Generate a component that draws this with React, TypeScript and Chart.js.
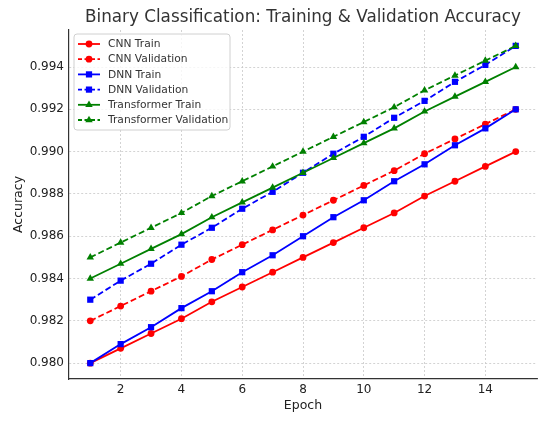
import React, { useEffect, useRef } from 'react';
import { Chart, registerables } from 'chart.js';
import { drawPoint } from 'chart.js/helpers';

Chart.register(...registerables);

const epochs = [1, 2, 3, 4, 5, 6, 7, 8, 9, 10, 11, 12, 13, 14, 15];

const cnnTrain = [0.9800, 0.9807, 0.9814, 0.9821, 0.9829, 0.9836, 0.9843, 0.9850, 0.9857, 0.9864, 0.9871, 0.9879, 0.9886, 0.9893, 0.9900];
const cnnVal = [0.9820, 0.9827, 0.9834, 0.9841, 0.9849, 0.9856, 0.9863, 0.9870, 0.9877, 0.9884, 0.9891, 0.9899, 0.9906, 0.9913, 0.9920];
const dnnTrain = [0.9800, 0.9809, 0.9817, 0.9826, 0.9834, 0.9843, 0.9851, 0.9860, 0.9869, 0.9877, 0.9886, 0.9894, 0.9903, 0.9911, 0.9920];
const dnnVal = [0.9830, 0.9839, 0.9847, 0.9856, 0.9864, 0.9873, 0.9881, 0.9890, 0.9899, 0.9907, 0.9916, 0.9924, 0.9933, 0.9941, 0.9950];
const tfTrain = [0.9840, 0.9847, 0.9854, 0.9861, 0.9869, 0.9876, 0.9883, 0.9890, 0.9897, 0.9904, 0.9911, 0.9919, 0.9926, 0.9933, 0.9940];
const tfVal = [0.9850, 0.9857, 0.9864, 0.9871, 0.9879, 0.9886, 0.9893, 0.9900, 0.9907, 0.9914, 0.9921, 0.9929, 0.9936, 0.9943, 0.9950];

const xTicks = [2, 4, 6, 8, 10, 12, 14];
const yTicks = [0.980, 0.982, 0.984, 0.986, 0.988, 0.990, 0.992, 0.994];

const titleText = 'Binary Classification: Training & Validation Accuracy';
const FONT = '"DejaVu Sans", Verdana, sans-serif';

const series = [
  { label: 'CNN Train', data: cnnTrain, color: '#ff0000', dashed: false, marker: 'circle' },
  { label: 'CNN Validation', data: cnnVal, color: '#ff0000', dashed: true, marker: 'circle' },
  { label: 'DNN Train', data: dnnTrain, color: '#0000ff', dashed: false, marker: 'rect' },
  { label: 'DNN Validation', data: dnnVal, color: '#0000ff', dashed: true, marker: 'rect' },
  { label: 'Transformer Train', data: tfTrain, color: '#008000', dashed: false, marker: 'triangle' },
  { label: 'Transformer Validation', data: tfVal, color: '#008000', dashed: true, marker: 'triangle' },
];

const markerRadius = (m: string) => (m === 'rect' ? 4.4 : m === 'triangle' ? 4.3 : 3.4);
const DASH = [6, 3];
const LINE_W = 1.8;

// title + in-axes legend, drawn the matplotlib way
const overlayPlugin = {
  id: 'overlay',
  afterDraw(chart: any) {
    const { ctx, chartArea } = chart;
    ctx.save();
    ctx.fillStyle = '#333333';
    ctx.font = `16.8px ${FONT}`;
    ctx.textAlign = 'center';
    ctx.textBaseline = 'middle';
    ctx.fillText(titleText, (chartArea.left + chartArea.right) / 2, 18);

    const bx = chartArea.left + 5;
    const by = chartArea.top + 4;
    const bw = 156;
    const bh = 96;
    ctx.beginPath();
    ctx.roundRect(bx, by, bw, bh, 3);
    ctx.fillStyle = 'rgba(255,255,255,0.8)';
    ctx.fill();
    ctx.strokeStyle = '#d0d0d0';
    ctx.lineWidth = 1;
    ctx.stroke();

    ctx.font = `10.7px ${FONT}`;
    ctx.textAlign = 'left';
    series.forEach((s, i) => {
      const y = by + 10 + i * 15.2;
      ctx.beginPath();
      ctx.setLineDash(s.dashed ? [4, 2.5] : []);
      ctx.strokeStyle = s.color;
      ctx.lineWidth = LINE_W;
      ctx.moveTo(bx + 4, y);
      ctx.lineTo(bx + 26, y);
      ctx.stroke();
      ctx.setLineDash([]);
      ctx.fillStyle = s.color;
      ctx.strokeStyle = s.color;
      drawPoint(ctx, { pointStyle: s.marker as any, radius: markerRadius(s.marker), rotation: 0, borderWidth: 0 }, bx + 15, y);
      ctx.fillStyle = '#333333';
      ctx.fillText(s.label, bx + 34, y + 0.5);
    });
    ctx.restore();
  },
};

export default function App() {
  const canvasRef = useRef<HTMLCanvasElement>(null);

  useEffect(() => {
    document.body.style.margin = '0';
    if (!canvasRef.current) return;
    const ctx = canvasRef.current.getContext('2d');
    if (!ctx) return;

    const gridOpts = {
      color: '#c8c8c8',
      lineWidth: 0.8,
      drawTicks: false,
    };
    const borderOpts = { display: true, color: '#333333', width: 1.2, dash: [2, 2] };

    const chart = new Chart(ctx, {
      type: 'line',
      data: {
        datasets: series.map((s, i) => ({
          label: s.label,
          data: epochs.map((e, j) => ({ x: e, y: s.data[j] })),
          borderColor: s.color,
          backgroundColor: s.color,
          borderWidth: LINE_W,
          borderDash: s.dashed ? DASH : [],
          pointStyle: s.marker as any,
          pointRadius: markerRadius(s.marker),
          pointBorderWidth: 0,
          tension: 0,
          fill: false,
          order: series.length - i,
        })),
      },
      options: {
        animation: false,
        responsive: false,
        layout: { padding: { left: 0, right: 13, top: 30, bottom: 0 } },
        plugins: {
          legend: { display: false },
          title: { display: false },
          tooltip: { enabled: false },
        },
        scales: {
          x: {
            type: 'linear',
            min: 0.3,
            max: 15.7,
            afterBuildTicks: (scale: any) => {
              scale.ticks = xTicks.map((v) => ({ value: v }));
            },
            afterFit: (scale: any) => {
              scale.height = 43;
            },
            ticks: {
              color: '#222222',
              font: { family: FONT, size: 12 },
              padding: 4,
              maxRotation: 0,
              autoSkip: false,
            },
            grid: gridOpts,
            border: borderOpts,
            title: {
              display: true,
              text: 'Epoch',
              color: '#222222',
              font: { family: FONT, size: 12.5 },
              padding: { top: 0, bottom: 9 },
            },
          },
          y: {
            type: 'linear',
            min: 0.97925,
            max: 0.99575,
            afterBuildTicks: (scale: any) => {
              scale.ticks = yTicks.map((v) => ({ value: v }));
            },
            afterFit: (scale: any) => {
              scale.width = 69;
            },
            ticks: {
              color: '#222222',
              font: { family: FONT, size: 12 },
              padding: 5,
              autoSkip: false,
              callback: (v: any) => Number(v).toFixed(3),
            },
            grid: gridOpts,
            border: borderOpts,
            title: {
              display: true,
              text: 'Accuracy',
              color: '#222222',
              font: { family: FONT, size: 12.5 },
              padding: { top: 11, bottom: 0 },
            },
          },
        },
      },
      plugins: [overlayPlugin],
    });

    return () => chart.destroy();
  }, []);

  return <canvas ref={canvasRef} width={550} height={422} style={{ display: 'block' }} />;
}
